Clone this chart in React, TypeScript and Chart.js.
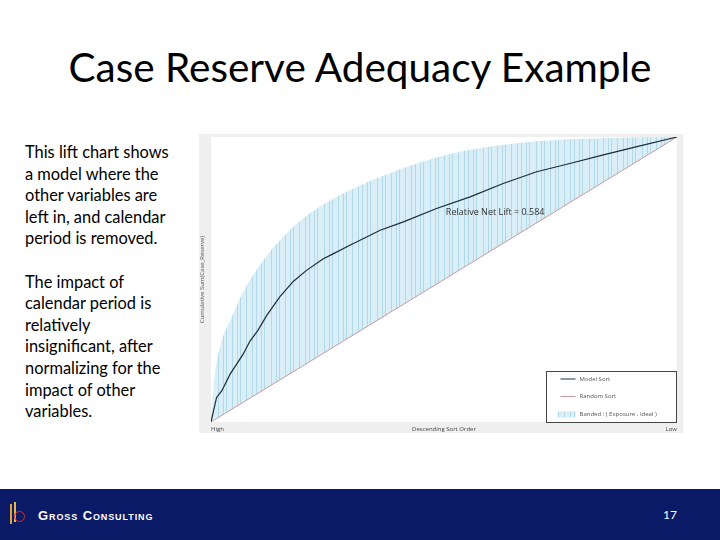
import { useEffect, useRef } from "react";
import Chart from "chart.js/auto";

// ---- data ----
const modelX = [0, 0.012, 0.023, 0.041, 0.069, 0.084, 0.1, 0.12, 0.148, 0.177, 0.205, 0.241, 0.262, 0.298, 0.334, 0.363, 0.413, 0.484, 0.556, 0.627, 0.699, 0.77, 0.842, 0.914, 1];
const modelY = [0, 0.086, 0.109, 0.168, 0.238, 0.285, 0.32, 0.375, 0.44, 0.494, 0.532, 0.573, 0.59, 0.62, 0.649, 0.673, 0.702, 0.749, 0.79, 0.837, 0.878, 0.907, 0.937, 0.966, 1];
const idealX = [0, 0.003, 0.006, 0.01, 0.017, 0.023, 0.028, 0.042, 0.064, 0.077, 0.1, 0.13, 0.155, 0.18, 0.21, 0.238, 0.27, 0.3, 0.334, 0.37, 0.412, 0.45, 0.484, 0.52, 0.556, 0.6, 0.65, 0.7, 0.77, 0.84, 0.914, 1];
const idealY = [0, 0.07, 0.134, 0.191, 0.25, 0.285, 0.31, 0.36, 0.44, 0.48, 0.54, 0.605, 0.65, 0.69, 0.73, 0.76, 0.79, 0.815, 0.84, 0.864, 0.89, 0.911, 0.928, 0.943, 0.955, 0.967, 0.977, 0.985, 0.992, 0.996, 0.999, 1];
const randomX = [0, 1];
const randomY = [0, 1];
const xTickValues = [0, 0.5, 1];
const xTickLabels = ["High", "Descending Sort Order", "Low"];
const seriesLabels = ["Model Sort", "Random Sort", "Banded : ( Exposure , Ideal )"];
const yTitle = "Cumulative Sum(Case_Reserve)";
const liftText = "Relative Net Lift = 0.584";
const liftAt = { x: 0.504, y: 0.735 };

const slideTitle = "Case Reserve Adequacy Example";
const para1 = ["This lift chart shows", "a model where the", "other variables are", "left in, and calendar", "period is removed."];
const para2 = ["The impact of", "calendar period is", "relatively", "insignificant, after", "normalizing for the", "impact of other", "variables."];
const pageNo = "17";

const BAND = "#d9eef6";
const STRIPE = "#b2d9e8";
const MODEL = "#1d2b3a";
const RANDOM = "#c79aa3";

function makePattern(): CanvasPattern | string {
  const c = document.createElement("canvas");
  c.width = 53;
  c.height = 4;
  const g = c.getContext("2d");
  if (!g) return BAND;
  g.fillStyle = BAND;
  g.fillRect(0, 0, c.width, c.height);
  g.fillStyle = STRIPE;
  [0, 4, 9, 12, 19, 24, 27, 33, 38, 41, 47].forEach((p) => g.fillRect(p, 0, 1, c.height));
  return g.createPattern(c, "repeat") || BAND;
}

const pts = (xs: number[], ys: number[]) => xs.map((x, i) => ({ x, y: ys[i] }));

const framePlugin = {
  id: "frame",
  beforeDraw(chart: any) {
    const { ctx, chartArea: a, width, height } = chart;
    ctx.save();
    ctx.fillStyle = "#efefef";
    ctx.fillRect(0, 0, width, height);
    ctx.fillStyle = "#ffffff";
    ctx.fillRect(a.left, a.top, a.right - a.left, a.bottom - a.top);
    ctx.restore();
  },
  afterDraw(chart: any) {
    const { ctx, chartArea: a, scales } = chart;
    ctx.save();
    // lift annotation
    ctx.font = "9px 'Open Sans', sans-serif";
    ctx.fillStyle = "#333";
    ctx.textBaseline = "middle";
    ctx.textAlign = "left";
    ctx.fillText(liftText, scales.x.getPixelForValue(liftAt.x), scales.y.getPixelForValue(liftAt.y));
    // legend box
    const bw = 130, bh = 51;
    const bx = a.right - bw - 0.5, by = a.bottom - bh + 0.5;
    ctx.fillStyle = "#fff";
    ctx.fillRect(bx, by, bw, bh);
    ctx.strokeStyle = "#444";
    ctx.lineWidth = 1;
    ctx.strokeRect(bx, by, bw, bh);
    ctx.font = "6px 'Open Sans', sans-serif";
    const ds = chart.data.datasets;
    const rows = [by + 7.5, by + 25, by + 43];
    ds.forEach((d: any, i: number) => {
      const y = rows[i];
      if (i < 2) {
        ctx.strokeStyle = d.borderColor;
        ctx.lineWidth = 1;
        ctx.beginPath();
        ctx.moveTo(bx + 14, y);
        ctx.lineTo(bx + 29, y);
        ctx.stroke();
      } else {
        ctx.fillStyle = d.backgroundColor;
        ctx.fillRect(bx + 11, y - 3, 18, 6);
      }
      ctx.fillStyle = "#555";
      ctx.fillText(d.label, bx + 33, y);
    });
    ctx.restore();
  },
};

function LiftChart() {
  const ref = useRef<HTMLCanvasElement | null>(null);
  useEffect(() => {
    if (!ref.current) return;
    const chart = new Chart(ref.current, {
      type: "line",
      data: {
        datasets: [
          { label: seriesLabels[0], data: pts(modelX, modelY), borderColor: MODEL, borderWidth: 1.2, pointRadius: 0, fill: false, tension: 0 },
          { label: seriesLabels[1], data: pts(randomX, randomY), borderColor: RANDOM, borderWidth: 1, pointRadius: 0, fill: false },
          { label: seriesLabels[2], data: pts(idealX, idealY), borderColor: "rgba(0,0,0,0)", borderWidth: 0, pointRadius: 0, fill: "-1", backgroundColor: makePattern() as any, tension: 0 },
        ],
      },
      options: {
        animation: false,
        responsive: false,
        devicePixelRatio: 1,
        layout: { padding: { left: 0, top: 3, right: 6, bottom: 0 } },
        plugins: { legend: { display: false }, tooltip: { enabled: false } },
        scales: {
          x: {
            type: "linear",
            min: 0,
            max: 1,
            afterBuildTicks: (s: any) => {
              s.ticks = xTickValues.map((v) => ({ value: v }));
            },
            afterFit: (s: any) => {
              s.height = 11;
            },
            ticks: {
              callback: (_v: any, i: number) => xTickLabels[i],
              align: "inner",
              autoSkip: false,
              maxRotation: 0,
              padding: 4,
              color: "#444",
              font: { size: 6, family: "'Open Sans', sans-serif" },
            },
            grid: { display: false, drawTicks: false },
            border: { display: false },
          },
          y: {
            min: 0,
            max: 1,
            afterFit: (s: any) => {
              s.width = 12;
            },
            ticks: { display: false },
            grid: { display: false, drawTicks: false },
            border: { display: false },
            title: { display: true, text: yTitle, color: "#555", padding: 0, font: { size: 6, family: "'Open Sans', sans-serif" } },
          },
        },
      },
      plugins: [framePlugin],
    });
    return () => chart.destroy();
  }, []);
  return <canvas ref={ref} width={484} height={299} style={{ position: "absolute", left: 199, top: 134, width: 484, height: 299 }} />;
}

export default function App() {
  const body = { fontFamily: "Lato, 'Open Sans', sans-serif", fontSize: 16.4, lineHeight: "21.6px", color: "#000" };
  return (
    <div style={{ position: "fixed", left: 0, top: 0, width: 720, height: 540, background: "#fff", overflow: "hidden" }}>
      <div style={{ position: "absolute", left: 0, top: 41, width: 720, textAlign: "center", fontFamily: "Lato, sans-serif", fontSize: 40.5, lineHeight: "52px", color: "#000" }}>{slideTitle}</div>
      <div style={{ position: "absolute", left: 25, top: 141, width: 180, ...body }}>
        {para1.map((l) => (
          <div key={l}>{l}</div>
        ))}
        <div style={{ height: 21.6 }} />
        {para2.map((l) => (
          <div key={l}>{l}</div>
        ))}
      </div>
      <LiftChart />
      <div style={{ position: "absolute", left: 0, top: 489, width: 720, height: 51, background: "#0b1a66" }}>
        <div style={{ position: "absolute", left: 10, top: 15, width: 2, height: 20, background: "#d9a441" }} />
        <div style={{ position: "absolute", left: 14, top: 13, width: 2, height: 20, background: "#e7b54b" }} />
        <div style={{ position: "absolute", left: 14, top: 22, width: 11, height: 11, borderRadius: "50%", border: "1.5px solid #c8332d", boxSizing: "border-box" }} />
        <div style={{ position: "absolute", left: 38, top: 20, fontFamily: "'Liberation Sans', sans-serif", fontWeight: "bold", fontSize: 13, lineHeight: "13px", fontVariant: "small-caps", color: "#fff", letterSpacing: 0.9 }}>Gross Consulting</div>
        <div style={{ position: "absolute", left: 660, top: 19, width: 20, textAlign: "center", fontFamily: "Lato, sans-serif", fontSize: 12, lineHeight: "14px", color: "#fff" }}>{pageNo}</div>
      </div>
    </div>
  );
}
